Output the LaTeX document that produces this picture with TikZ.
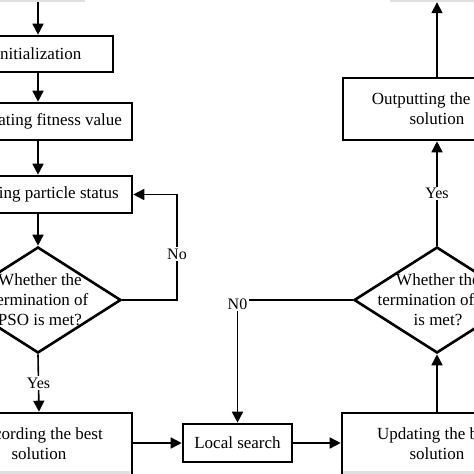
\documentclass[tikz,border=0pt]{standalone}
\usepackage{fontspec}
\setmainfont{Liberation Serif}
\usetikzlibrary{shapes.geometric,arrows.meta}
\begin{document}
\begin{tikzpicture}[x=1pt,y=-1pt,
  boxst/.style={draw, line width=2.6pt, align=center, inner sep=0pt, font=\fontsize{17}{20}\selectfont},
  diast/.style={diamond, draw, line width=2.6pt, inner sep=0pt, minimum width=166pt, minimum height=106pt},
  txt/.style={align=center, inner sep=0pt, font=\fontsize{17}{20}\selectfont},
  conn/.style={line width=1.6pt, -{Triangle[length=11pt,width=11pt]}},
  plainln/.style={line width=1.6pt},
  lab/.style={fill=white, inner sep=1.5pt, font=\fontsize{16}{18}\selectfont},
  cutbox/.style={fill=black!12, draw=none, inner sep=0pt}
]
\useasboundingbox (0,0) rectangle (474,474);
\clip (0,0) rectangle (474,474);

% cropped boxes at the top
\node[cutbox, minimum width=145pt, minimum height=42pt] (start) at (12.5,-19) {};
\node[cutbox, minimum width=150pt, minimum height=42pt] (endb) at (465,-19) {};

% left column
\node[boxst, minimum width=150pt, minimum height=36pt] (init) at (38,54) {Initialization};
\node[boxst, minimum width=173pt, minimum height=37pt] (fit) at (45.5,121.5) {Updating fitness value};
\node[boxst, minimum width=188pt, minimum height=37pt] (stat) at (38,194.5) {Updating particle status};
\node[diast] (ldia) at (38,300) {};
\node[txt] (ldiat) at (40,300) {Whether the\\termination of\\PSO is met?};
\node[boxst, minimum width=186pt, minimum height=62pt] (rec) at (39,444) {Recording the best\\solution};

% middle
\node[boxst, minimum width=109pt, minimum height=38pt] (ls) at (237.5,443) {Local search};

% right column
\node[boxst, minimum width=190pt, minimum height=62pt] (upd) at (437,444) {Updating the best\\solution};
\node[diast] (rdia) at (437,300) {};
\node[txt] (rdiat) at (438,300) {Whether the\\termination of LS\\is met?};
\node[boxst, minimum width=188pt, minimum height=62pt] (out) at (437,109) {Outputting the best\\solution};

% faint strips at the bottom edge
\fill[black!12] (0,471) rectangle (130,474);
\fill[black!12] (343,471) rectangle (474,474);

% connectors
\draw[conn] (init.north |- start.south) -- (init.north);
\draw[conn] (init.south) -- (init.south |- fit.north);
\draw[conn] (init.south |- fit.south) -- (stat.north);
\draw[conn] (stat.south) -- (ldia.north);
\coordinate (fb1) at (177,300);
\coordinate (fb2) at (177,194.5);
\draw[conn] (ldia.east) -- (fb1) -- (fb2) -- (stat.east);
\node[lab] (nolab) at (177,254) {No};
\draw[conn] (ldia.south) -- node[lab] (yeslab) {Yes} (rec.north);
\draw[conn] (rec.east |- ls.west) -- (ls.west);
\draw[conn] (ls.east) -- (ls.east -| upd.west);
\draw[conn] (upd.north) -- (rdia.south);
\coordinate (nc) at (237.5,300);
\draw[conn] (rdia.west) -- (nc) -- (ls.north);
\node[lab] (nolab2) at (237.5,304) {N0};
\draw[conn] (rdia.north) -- node[lab] (yeslab2) {Yes} (out.south);
\draw[conn] (out.north) -- (out.north |- endb.south);
\end{tikzpicture}
\end{document}
